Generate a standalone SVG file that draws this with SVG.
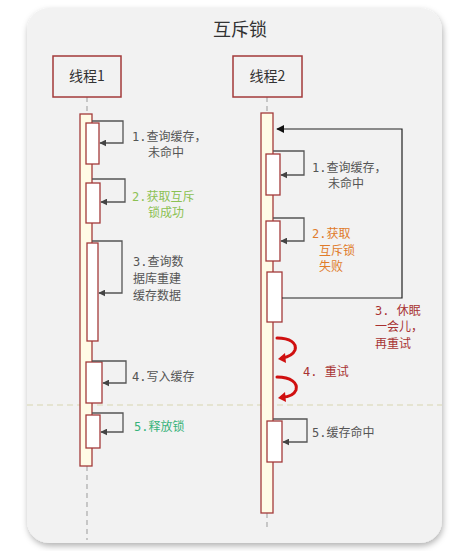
<svg xmlns="http://www.w3.org/2000/svg" width="460" height="551" viewBox="0 0 460 551">
<defs>
<style>
text{font-family:"Noto Sans CJK SC","Noto Sans",sans-serif;}
.m{font-family:"DejaVu Sans Mono","Liberation Mono",monospace;}
.lbl{font-size:12px;fill:#555;}
.head{fill:#f2f2f2;stroke:#a33a3a;stroke-width:1.5;}
.bar{fill:#fffbe6;stroke:#a33a3a;stroke-width:1.3;}
.act{fill:#fff;stroke:#a33a3a;stroke-width:1.3;}
.life{stroke:#aaa;stroke-width:1.2;stroke-dasharray:5,4;fill:none;}
.msg{fill:none;stroke:#555;stroke-width:1.3;marker-end:url(#ah);}
.retry{fill:none;stroke:#d01010;stroke-width:3;stroke-linecap:round;}
</style>
<marker id="ah" viewBox="0 0 10 10" refX="9" refY="5" markerWidth="7" markerHeight="7" markerUnits="userSpaceOnUse" orient="auto">
<path d="M0,0 L10,5 L0,10 z" fill="#444"/>
</marker>
<marker id="ahb" viewBox="0 0 10 10" refX="9" refY="5" markerWidth="8" markerHeight="8" markerUnits="userSpaceOnUse" orient="auto">
<path d="M0,0 L10,5 L0,10 z" fill="#111"/>
</marker>
<filter id="sh" x="-10%" y="-10%" width="120%" height="120%">
<feDropShadow dx="1" dy="3" stdDeviation="3" flood-color="#000" flood-opacity="0.3"/>
</filter>
</defs>
<rect x="0" y="0" width="460" height="551" fill="#fff"/>
<rect x="27" y="8" width="415" height="535" rx="22" ry="22" fill="#f2f2f2" filter="url(#sh)"/>
<text x="240" y="36" font-size="18" fill="#333" text-anchor="middle">互斥锁</text>
<line x1="27" y1="405" x2="442" y2="405" stroke="#d8d6b0" stroke-width="1.2" stroke-dasharray="6,4"/>

<g id="thread1">
<line class="life" x1="87" y1="97" x2="87" y2="114"/>
<line class="life" x1="87" y1="466" x2="87" y2="540"/>
<rect class="head" x="53" y="56" width="68" height="41"/>
<text x="87" y="81" font-size="14" fill="#333" text-anchor="middle">线程1</text>
<rect class="bar" x="80" y="114" width="12" height="352"/>
<rect class="act" x="86" y="123" width="13" height="41"/>
<rect class="act" x="86" y="183" width="14" height="40"/>
<rect class="act" x="87" y="243" width="11" height="98"/>
<rect class="act" x="86" y="362" width="16" height="41"/>
<rect class="act" x="86" y="415" width="14" height="33"/>
</g>

<g id="thread2">
<line class="life" x1="267" y1="97" x2="267" y2="113"/>
<line class="life" x1="267" y1="513" x2="267" y2="530"/>
<rect class="head" x="233" y="56" width="69" height="41"/>
<text x="267.5" y="81" font-size="14" fill="#333" text-anchor="middle">线程2</text>
<rect class="bar" x="261" y="113" width="12" height="400"/>
<rect class="act" x="266" y="154" width="14" height="41"/>
<rect class="act" x="266" y="221" width="14" height="40"/>
<rect class="act" x="267" y="272" width="15" height="50"/>
<rect class="act" x="267" y="421" width="15" height="41"/>
</g>

<g id="connectors">
<path class="msg" d="M92,121 H123 V143 H100"/>
<path class="msg" d="M92,179 H125 V202 H101"/>
<path class="msg" d="M92,241 H122 V293 H99"/>
<path class="msg" d="M92,361 H126 V383 H103"/>
<path class="msg" d="M92,413 H123 V432 H101"/>
<path class="msg" d="M273,151 H304 V175 H281"/>
<path class="msg" d="M273,218 H304 V241 H281"/>
<path class="msg" d="M273,419 H307 V442 H283"/>
<path d="M282,298 H402 V129 H277" fill="none" stroke="#222" stroke-width="1.2" marker-end="url(#ahb)"/>
<path class="retry" d="M277,338 C290,338 297,343 295,350 C293,355 288,357 282,358"/>
<path d="M278,359 L285,353 L286,363 z" fill="#d01010"/>
<path class="retry" d="M277,377 C291,377 298,383 296,390 C294,395 289,397 282,397"/>
<path d="M278,398 L285,392 L286,402 z" fill="#d01010"/>
</g>

<g id="labels">
<text class="lbl" x="132" y="141"><tspan class="m">1.</tspan>查询缓存，</text>
<text class="lbl" x="148" y="157">未命中</text>
<text class="lbl" x="132" y="200.5" style="fill:#8cc152"><tspan class="m">2.</tspan>获取互斥</text>
<text class="lbl" x="148" y="217" style="fill:#8cc152">锁成功</text>
<text class="lbl" x="133" y="266"><tspan class="m">3.</tspan>查询数</text>
<text class="lbl" x="133" y="283">据库重建</text>
<text class="lbl" x="133" y="300">缓存数据</text>
<text class="lbl" x="132" y="381"><tspan class="m">4.</tspan>写入缓存</text>
<text class="lbl" x="134" y="431" style="fill:#37b37a"><tspan class="m">5.</tspan>释放锁</text>

<text class="lbl" x="312" y="171.5"><tspan class="m">1.</tspan>查询缓存，</text>
<text class="lbl" x="328" y="188">未命中</text>
<text class="lbl" x="312" y="238" style="fill:#e07b2a"><tspan class="m">2.</tspan>获取</text>
<text class="lbl" x="319" y="254.5" style="fill:#e07b2a">互斥锁</text>
<text class="lbl" x="319" y="271" style="fill:#e07b2a">失败</text>
<text class="lbl" x="375" y="314.5" style="fill:#a83232"><tspan class="m">3. </tspan>休眠</text>
<text class="lbl" x="375" y="331" style="fill:#a83232">一会儿，</text>
<text class="lbl" x="375" y="348" style="fill:#a83232">再重试</text>
<text class="lbl" x="303" y="376" style="fill:#a83232"><tspan class="m">4. </tspan>重试</text>
<text class="lbl" x="312" y="437"><tspan class="m">5.</tspan>缓存命中</text>
</g>
</svg>
